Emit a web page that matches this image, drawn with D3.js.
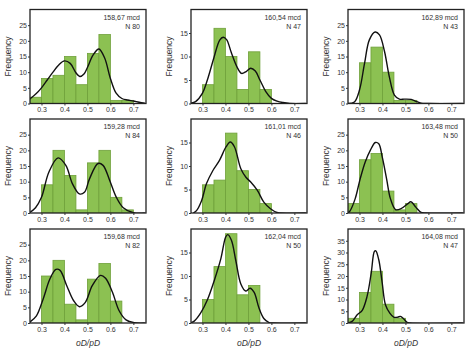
<!DOCTYPE html>
<html><head><meta charset="utf-8">
<script src="https://cdn.jsdelivr.net/npm/d3@7"></script>
<style>
html,body{margin:0;padding:0;background:#fff;}
svg{display:block;font-family:"Liberation Sans",Arial,sans-serif;}
</style></head>
<body>
<script>
// ---- data ----
const binStarts = [0.25,0.30,0.35,0.40,0.45,0.50,0.55,0.60,0.65];
const binWidth = 0.05;
const xTicks = [0.3,0.4,0.5,0.6,0.7];
const panelDepths = ["158,67 mcd","160,54 mcd","162,89 mcd","159,28 mcd","161,01 mcd","163,48 mcd","159,68 mcd","162,04 mcd","164,08 mcd"];
const panelN = ["N 80","N 47","N 43","N 84","N 46","N 50","N 82","N 50","N 47"];
const yMax = [30,20,30,30,20,30,30,20,40];
const counts1 = [2,8,9,15,6,16,22,1,1];
const counts2 = [0,4,16,10,3,11,3,0,0];
const counts3 = [0,13,18,10,1,1,0,0,0];
const counts4 = [0,9,20,12,1,16,20,5,1];
const counts5 = [0,6,7,17,9,5,2,0,0];
const counts6 = [3,17,19,7,1,3,0,0,0];
const counts7 = [0,15,20,6,1,14,19,7,0];
const counts8 = [0,5,12,19,6,8,0,0,0];
const counts9 = [2,13,22,8,2,0,0,0,0];
const curve1 = [[0.248,1.4],[0.275,3.0],[0.30,5.0],[0.325,7.5],[0.35,10.0],[0.375,12.3],[0.40,13.6],[0.425,12.8],[0.45,9.8],[0.467,8.6],[0.485,9.4],[0.50,11.5],[0.525,15.5],[0.55,17.4],[0.575,14.5],[0.60,8.0],[0.625,3.3],[0.65,1.6],[0.675,1.1],[0.70,0.8],[0.725,0.4],[0.75,0.1]];
const curve2 = [[0.245,0],[0.27,0.4],[0.30,2.2],[0.325,5.6],[0.35,9.8],[0.375,13.5],[0.39,14.1],[0.405,13.6],[0.425,10.9],[0.45,7.8],[0.47,6.4],[0.49,6.8],[0.51,7.5],[0.53,6.9],[0.55,5.0],[0.575,2.6],[0.60,1.1],[0.625,0.5],[0.65,0.2],[0.68,0],[0.75,0]];
const curve3 = [[0.25,0],[0.278,0.5],[0.30,4.3],[0.322,12.8],[0.343,20.3],[0.368,22.8],[0.387,21.9],[0.409,16.6],[0.43,8.5],[0.452,2.7],[0.474,1.4],[0.496,1.4],[0.525,1.3],[0.546,0.7],[0.568,0.1],[0.6,0],[0.75,0]];
const curve4 = [[0.245,0],[0.274,1.7],[0.30,5],[0.332,13],[0.372,17.6],[0.406,15.2],[0.435,9.3],[0.465,6.1],[0.487,6.6],[0.509,10.9],[0.546,15.8],[0.568,15.2],[0.597,10.4],[0.626,5],[0.656,1.7],[0.7,0.1],[0.75,0]];
const curve5 = [[0.26,0],[0.274,0.5],[0.296,2.6],[0.317,6.2],[0.346,9.1],[0.374,11.2],[0.403,14.1],[0.421,15.1],[0.439,14.1],[0.467,9.4],[0.489,7.6],[0.51,6.6],[0.539,4.8],[0.567,2.3],[0.596,0.9],[0.624,0.1],[0.64,0],[0.75,0]];
const curve6 = [[0.249,0],[0.259,0.7],[0.281,4.5],[0.303,10.9],[0.325,16.3],[0.347,20],[0.369,22.5],[0.384,22.1],[0.399,17.9],[0.418,10.9],[0.435,4.5],[0.457,1.1],[0.479,1.3],[0.509,2.9],[0.524,3.6],[0.546,1.8],[0.568,0.2],[0.59,0],[0.75,0]];
const curve7 = [[0.249,0.3],[0.278,2.3],[0.307,7.6],[0.337,14.1],[0.363,17.1],[0.381,16.8],[0.41,11.9],[0.44,7.1],[0.465,5.2],[0.491,6.6],[0.521,11.9],[0.557,15.2],[0.579,14.3],[0.609,9.8],[0.638,3.9],[0.668,1],[0.704,0.1],[0.75,0]];
const curve8 = [[0.246,0],[0.264,0.4],[0.293,2.2],[0.322,5],[0.351,9],[0.38,13.7],[0.401,18.3],[0.41,18.8],[0.426,17.6],[0.445,13.3],[0.467,8.3],[0.488,6.8],[0.507,7.4],[0.525,6.5],[0.546,3.2],[0.568,0.9],[0.59,0.1],[0.61,0],[0.75,0]];
const curve9 = [[0.251,0],[0.268,0.7],[0.29,3.5],[0.312,5.4],[0.333,11.3],[0.351,21.2],[0.365,30.5],[0.371,30.7],[0.384,26.9],[0.399,17],[0.413,7.8],[0.432,4.2],[0.449,2.5],[0.467,2.5],[0.478,2.8],[0.493,1.7],[0.507,0.3],[0.52,0],[0.75,0]];
const allCounts = [counts1,counts2,counts3,counts4,counts5,counts6,counts7,counts8,counts9];
const allCurves = [curve1,curve2,curve3,curve4,curve5,curve6,curve7,curve8,curve9];

// ---- layout ----
const W = 474, H = 355;
const colX = [30, 191, 348];
const rowY = [9.5, 119, 229];
const pw = 116, ph = 94;

const svg = d3.select("body").append("svg").attr("width", W).attr("height", H);

allCounts.forEach((counts, i) => {
  const r = Math.floor(i / 3), c = i % 3;
  const g = svg.append("g").attr("transform", `translate(${colX[c]},${rowY[r]})`);
  const x = d3.scaleLinear().domain([0.25, 0.755]).range([0, pw]);
  const y = d3.scaleLinear().domain([0, yMax[i]]).range([ph, 0]);

  g.append("clipPath").attr("id", "clip" + i)
    .append("rect").attr("width", pw).attr("height", ph);

  const plot = g.append("g").attr("clip-path", `url(#clip${i})`);
  plot.selectAll("rect.bar")
    .data(binStarts.map((b, k) => ({b, v: counts[k]})).filter(d => d.v > 0))
    .join("rect").attr("class", "bar")
    .attr("x", d => x(d.b))
    .attr("width", d => x(d.b + binWidth) - x(d.b))
    .attr("y", d => y(d.v))
    .attr("height", d => y(0) - y(d.v))
    .attr("fill", "#8cc152")
    .attr("stroke", "#6fa03a")
    .attr("stroke-width", 0.8);

  const line = d3.line().x(d => x(d[0])).y(d => y(Math.max(0, d[1]))).curve(d3.curveCatmullRom.alpha(0.5));
  plot.append("path").datum(allCurves[i])
    .attr("d", line).attr("fill", "none")
    .attr("stroke", "#111").attr("stroke-width", 1.4);

  // frame
  g.append("rect").attr("width", pw).attr("height", ph)
    .attr("fill", "none").attr("stroke", "#222").attr("stroke-width", 1.3);

  // axes
  const yTicks = d3.range(0, yMax[i], 5);
  const ya = g.append("g").call(d3.axisLeft(y).tickValues(yTicks).tickSize(2).tickPadding(1).tickFormat(d3.format("d")));
  ya.select(".domain").remove();
  ya.selectAll("text").attr("font-size", 7).attr("fill", "#333").attr("font-family", "Liberation Sans, Arial, sans-serif");
  ya.selectAll("line").attr("stroke", "#333");

  const xa = g.append("g").attr("transform", `translate(0,${ph})`)
    .call(d3.axisBottom(x).tickValues(xTicks).tickSize(2).tickPadding(2).tickFormat(d3.format(".1f")));
  xa.select(".domain").remove();
  xa.selectAll("text").attr("font-size", 7).attr("fill", "#333").attr("font-family", "Liberation Sans, Arial, sans-serif");
  xa.selectAll("line").attr("stroke", "#333");

  // labels
  g.append("text").attr("x", pw - 6).attr("y", 10).attr("text-anchor", "end")
    .attr("font-size", 7).attr("fill", "#333").text(panelDepths[i]);
  g.append("text").attr("x", pw - 6).attr("y", 19).attr("text-anchor", "end")
    .attr("font-size", 7).attr("fill", "#333").text(panelN[i]);

  g.append("text").attr("transform", `translate(${-19},${ph / 2}) rotate(-90)`)
    .attr("text-anchor", "middle").attr("font-size", 8.5).attr("fill", "#333").text("Frequency");

  if (r === 2) {
    g.append("text").attr("x", pw / 2).attr("y", ph + 23).attr("text-anchor", "middle")
      .attr("font-size", 8.5).attr("font-style", "italic").attr("fill", "#333").text("oD/pD");
  }
});
</script>
</body></html>
